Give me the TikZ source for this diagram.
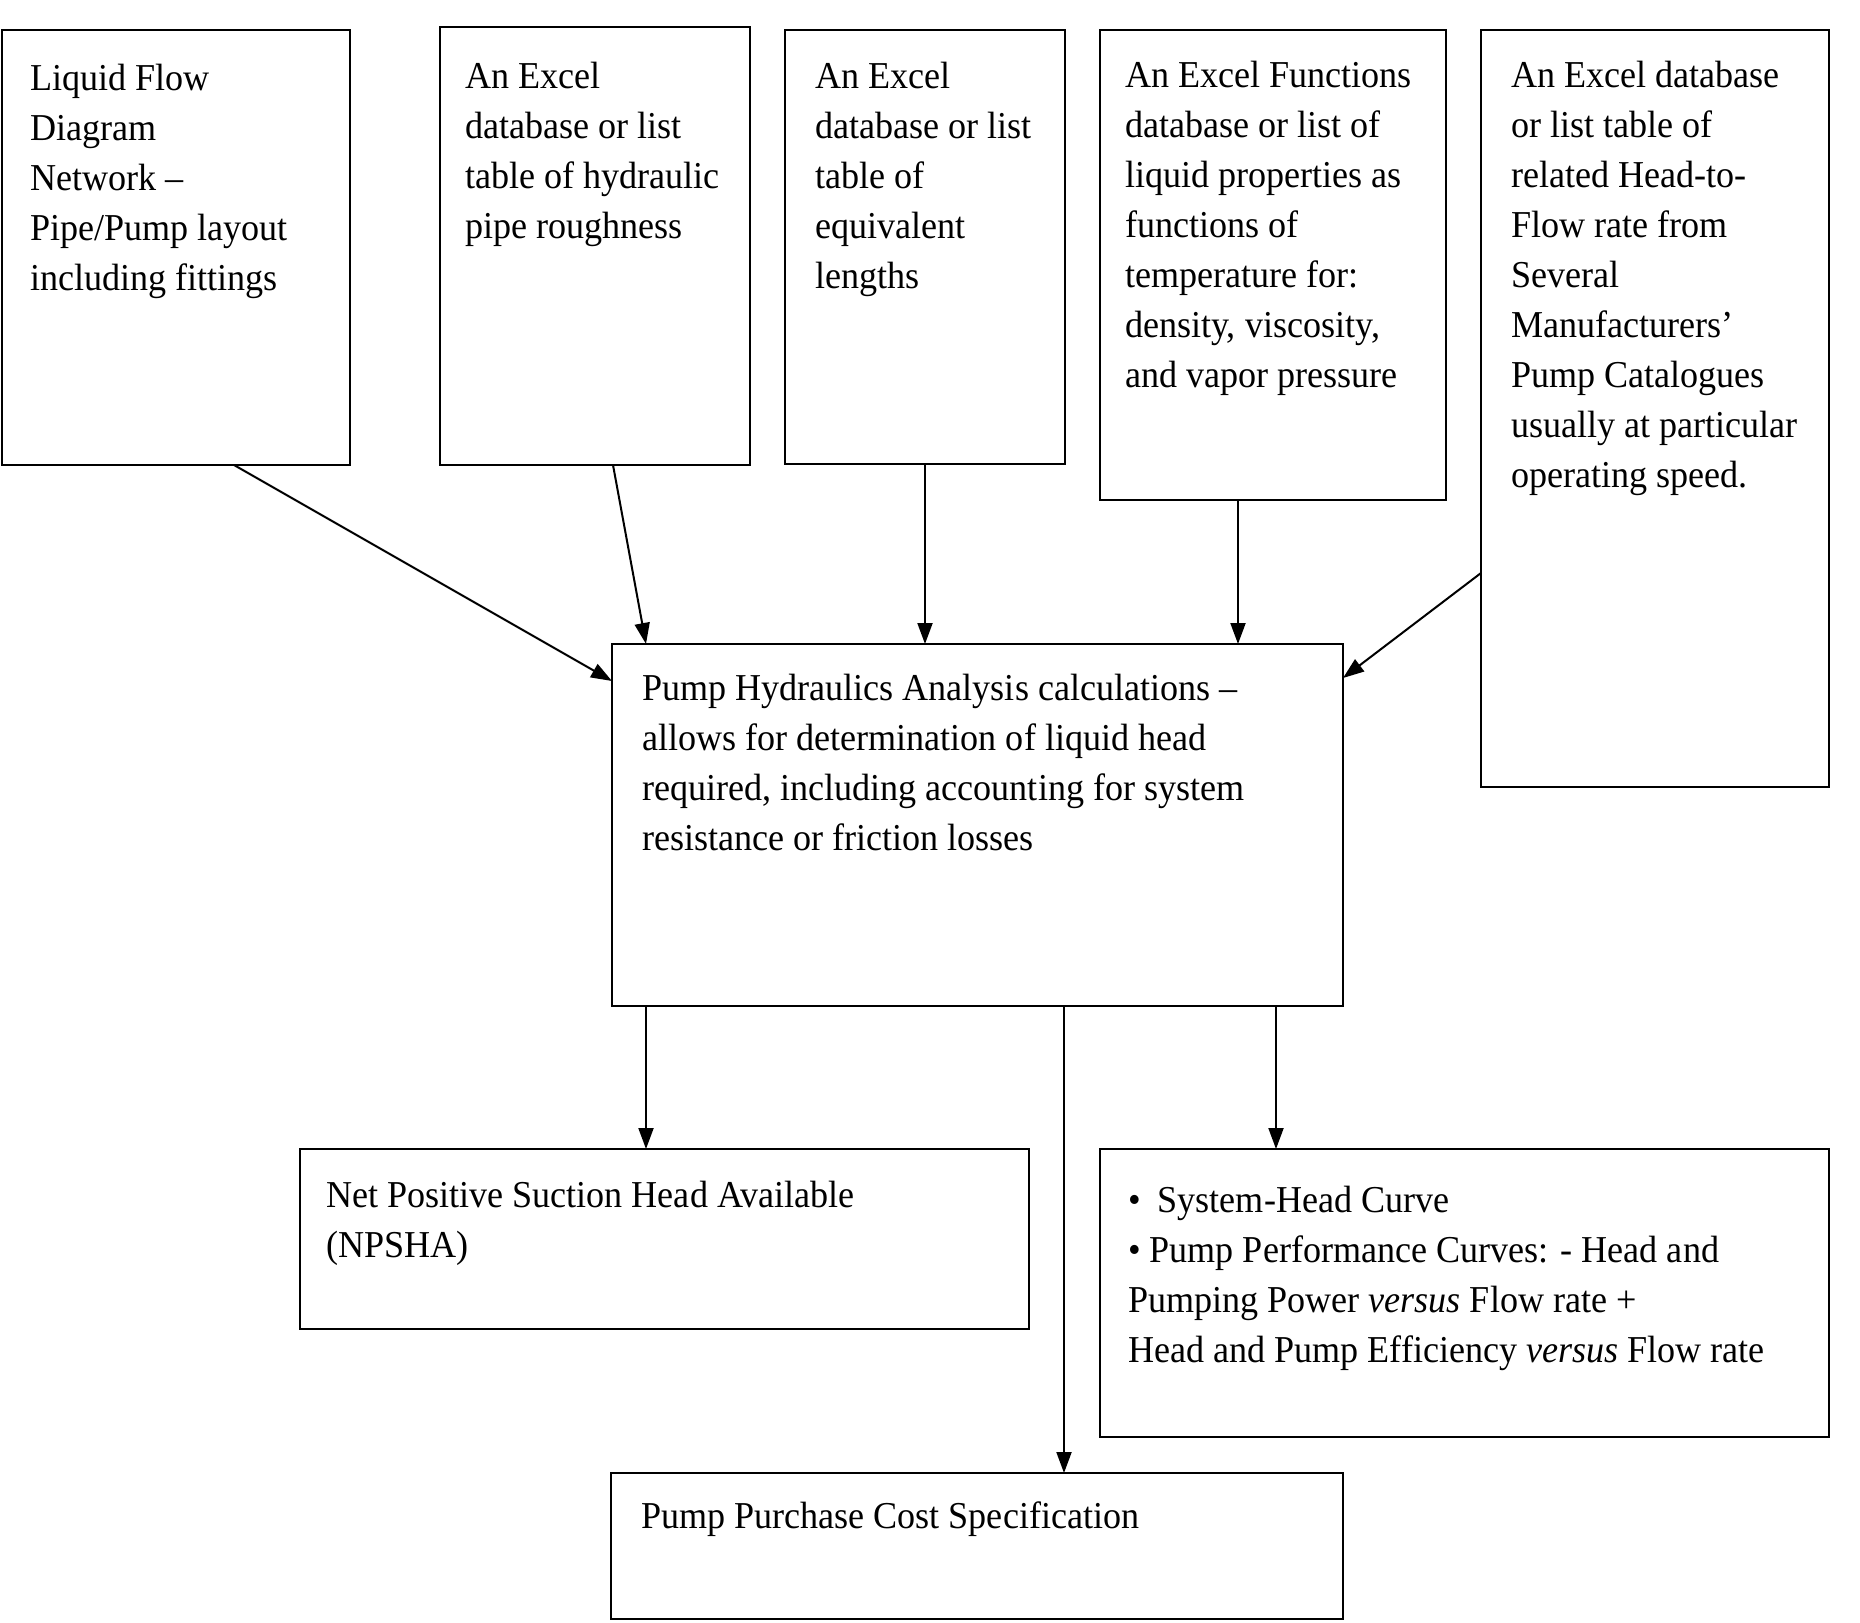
\documentclass[tikz,border=0pt]{standalone}
\usepackage{fontspec}
\setmainfont[FakeStretch=0.95]{Liberation Serif}
\usetikzlibrary{arrows.meta,calc}
\newcommand\bxt[1]{\parbox[t]{1000pt}{\fontsize{38}{50}\selectfont\raggedright #1}}
\begin{document}
\begin{tikzpicture}[x=1pt,y=-1pt,
  bx/.style={draw, line width=2.8pt, rectangle, inner sep=0pt, outer sep=0pt, anchor=north west},
  tx/.style={anchor=base west, inner sep=0pt, outer sep=0pt},
  arr/.style={line width=2pt, -{Triangle[length=21pt,width=15pt]}}]
\useasboundingbox (0,0) rectangle (1860,1622);
% boxes
\node[bx, minimum width=348pt, minimum height=435pt] (b1) at (2,30) {};
\node[bx, minimum width=310pt, minimum height=438pt] (b2) at (440,27) {};
\node[bx, minimum width=280pt, minimum height=434pt] (b3) at (785,30) {};
\node[bx, minimum width=346pt, minimum height=470pt] (b4) at (1100,30) {};
\node[bx, minimum width=348pt, minimum height=757pt] (b5) at (1481,30) {};
\node[bx, minimum width=731pt, minimum height=362pt] (c) at (612,644) {};
\node[bx, minimum width=729pt, minimum height=180pt] (np) at (300,1149) {};
\node[bx, minimum width=729pt, minimum height=288pt] (cv) at (1100,1149) {};
\node[bx, minimum width=732pt, minimum height=146pt] (co) at (611,1473) {};
% texts
\node[tx] (t1) at (30,90) {\bxt{Liquid Flow\\Diagram\\Network –\\Pipe/Pump layout\\including fittings}};
\node[tx] (t2) at (465,88) {\bxt{An Excel\\database or list\\table of hydraulic\\pipe roughness}};
\node[tx] (t3) at (815,88) {\bxt{An Excel\\database or list\\table of\\equivalent\\lengths}};
\node[tx] (t4) at (1125,87) {\bxt{An Excel Functions\\database or list of\\liquid properties  as\\functions of\\temperature for:\\density, viscosity,\\and vapor pressure}};
\node[tx] (t5) at (1511,87) {\bxt{An Excel database\\or list  table of\\related Head-to-\\Flow rate from\\Several\\Manufacturers’\\Pump Catalogues\\usually at particular\\operating speed.}};
\node[tx] (tc) at (642,700) {\bxt{Pump Hydraulics Analysis calculations –\\allows for determination of liquid head\\required, including  accounting for system\\resistance or friction losses}};
\node[tx] (tn) at (326,1207) {\bxt{Net Positive  Suction Head Available\\(NPSHA)}};
\node[tx] (tv) at (1128,1212) {\bxt{•\hspace{0.45em}System-Head Curve\\• Pump Performance Curves: - Head and\\Pumping Power \textit{versus} Flow rate +\\Head and Pump Efficiency \textit{versus} Flow rate}};
\node[tx] (to) at (641,1528) {\bxt{Pump Purchase Cost Specification}};
% connectors
\draw[arr] ($(b1.south west)+(232,0)$) -- ($(c.north west)+(0,37)$);
\draw[arr] ($(b2.south west)+(173,0)$) -- ($(c.north west)+(34,0)$);
\draw[arr] (b3.south) -- ($(c.north west)+(313,0)$);
\draw[arr] ($(b4.south west)+(138,0)$) -- ($(c.north west)+(626,0)$);
\draw[arr] ($(b5.north west)+(0,543)$) -- ($(c.north east)+(0,34)$);
\draw[arr] ($(c.south west)+(34,0)$) -- ($(np.north west)+(346,0)$);
\draw[arr] ($(c.south west)+(664,0)$) -- ($(cv.north west)+(176,0)$);
\draw[arr] ($(c.south west)+(452,0)$) -- ($(co.north west)+(453,0)$);
\end{tikzpicture}
\end{document}
